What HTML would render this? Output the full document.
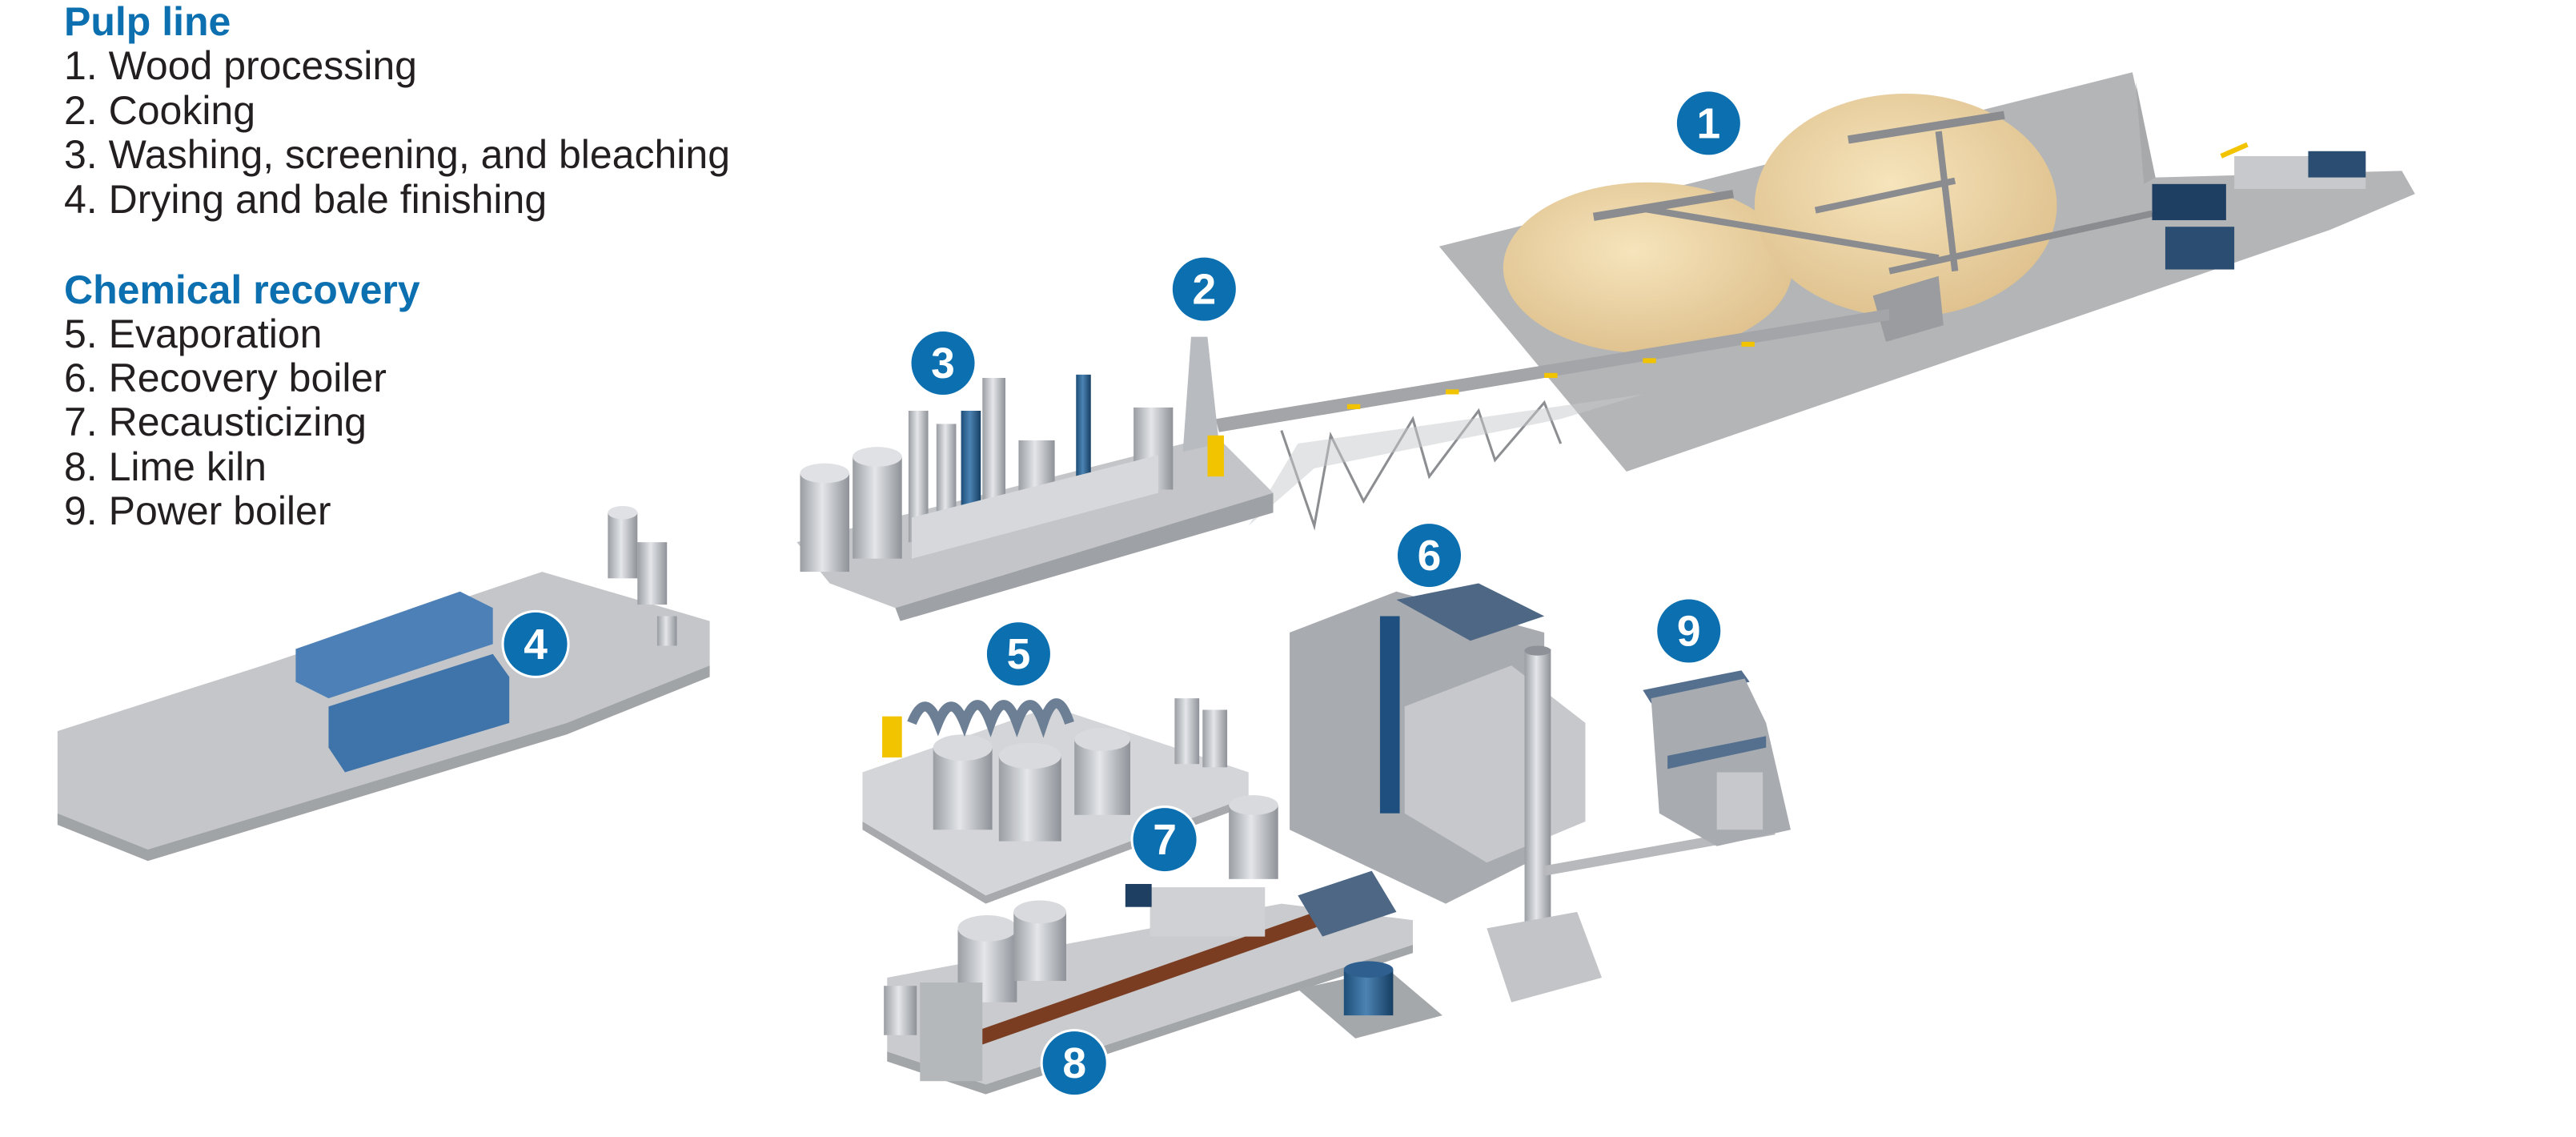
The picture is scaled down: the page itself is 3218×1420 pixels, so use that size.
<!DOCTYPE html>
<html><head><meta charset="utf-8"><style>
html,body{margin:0;padding:0;background:#fff;}
#wrap{position:relative;width:3218px;height:1420px;overflow:hidden;background:#fff;}
svg{position:absolute;left:0;top:0;}
.t{position:absolute;left:80px;font-family:"Liberation Sans",Arial,sans-serif;font-size:50px;color:#231f20;line-height:1;white-space:nowrap;}
.h{color:#0b6fb0;font-weight:bold;font-size:50px;}
</style></head><body><div id="wrap">
<svg width="3218" height="1420" viewBox="0 0 1568 692" preserveAspectRatio="none">
<defs>
<linearGradient id="cyl" x1="0" x2="1"><stop offset="0" stop-color="#9a9ea3"/><stop offset=".45" stop-color="#e4e6e9"/><stop offset="1" stop-color="#8e9298"/></linearGradient>
<linearGradient id="cylb" x1="0" x2="1"><stop offset="0" stop-color="#1d4e78"/><stop offset=".45" stop-color="#4c83b3"/><stop offset="1" stop-color="#163e62"/></linearGradient>
<radialGradient id="sand" cx=".45" cy=".4" r=".7"><stop offset="0" stop-color="#f6e4bc"/><stop offset="1" stop-color="#dcbd88"/></radialGradient>
</defs>
<!-- area 1 platform -->
<polygon points="876,150 1298,44 1312,108 1462,104 1470,118 1418,140 990,287" fill="#b4b5b7"/>
<polygon points="1300,50 1312,108 1305,112" fill="#a8a9ab"/>
<ellipse cx="1003" cy="163" rx="88" ry="52" fill="url(#sand)"/>
<ellipse cx="1160" cy="125" rx="92" ry="68" fill="url(#sand)"/>
<line x1="970" y1="132" x2="1055" y2="118" stroke="#8a8c90" stroke-width="5"/>
<line x1="1000" y1="127" x2="1180" y2="157" stroke="#8a8c90" stroke-width="4"/>
<line x1="1125" y1="85" x2="1220" y2="70" stroke="#8a8c90" stroke-width="5"/>
<line x1="1105" y1="128" x2="1190" y2="110" stroke="#8a8c90" stroke-width="4"/>
<line x1="1180" y1="80" x2="1190" y2="165" stroke="#8a8c90" stroke-width="4"/>
<line x1="1150" y1="165" x2="1310" y2="130" stroke="#8a8c90" stroke-width="4"/>
<polygon points="1140,180 1180,168 1183,198 1148,208" fill="#9a9c9f"/>
<rect x="1310" y="112" width="45" height="22" fill="#1f3f62"/>
<rect x="1318" y="138" width="42" height="26" fill="#2b4d72"/>
<rect x="1360" y="95" width="80" height="20" fill="#c7c9cc"/>
<rect x="1405" y="92" width="35" height="16" fill="#2b4d72"/>
<line x1="1352" y1="95" x2="1368" y2="88" stroke="#f2c400" stroke-width="3"/>
<!-- conveyor -->
<polygon points="740,255 1150,188 1150,195 742,263" fill="#a3a5a8"/>
<polyline points="780,262 800,320 810,265 830,305 860,255 870,290 900,250 910,280 940,245 950,270" fill="none" stroke="#8c8e92" stroke-width="1.5"/>
<polygon points="760,320 790,270 1000,240 950,255 800,285" fill="#c8c9cb" opacity=".5"/>
<g fill="#f2c400"><rect x="820" y="246" width="8" height="3"/><rect x="880" y="237" width="8" height="3"/><rect x="940" y="227" width="8" height="3"/><rect x="1000" y="218" width="8" height="3"/><rect x="1060" y="208" width="8" height="3"/></g>
<!-- area 3 -->
<polygon points="485,330 740,265 775,300 545,370 505,355" fill="#c3c5c8"/>
<polygon points="545,370 775,300 775,312 548,378" fill="#9ea1a5"/>
<rect x="487" y="288" width="30" height="60" fill="url(#cyl)"/><ellipse cx="502" cy="288" rx="15" ry="6" fill="#dfe1e4"/>
<rect x="519" y="278" width="30" height="62" fill="url(#cyl)"/><ellipse cx="534" cy="278" rx="15" ry="6" fill="#dfe1e4"/>
<rect x="553" y="250" width="12" height="80" fill="url(#cyl)"/>
<rect x="570" y="258" width="12" height="70" fill="url(#cyl)"/>
<rect x="585" y="250" width="12" height="75" fill="url(#cylb)"/>
<rect x="598" y="230" width="14" height="90" fill="url(#cyl)"/>
<rect x="620" y="268" width="22" height="45" fill="url(#cyl)"/>
<rect x="655" y="228" width="9" height="70" fill="url(#cylb)"/>
<rect x="690" y="248" width="24" height="50" fill="url(#cyl)"/>
<polygon points="720,275 725,205 735,205 742,270" fill="#b8bbbf"/>
<rect x="735" y="265" width="10" height="25" fill="#f2c400"/>
<polygon points="555,315 705,277 705,300 555,340" fill="#d6d8db"/>
<!-- area 4 -->
<polygon points="35,445 160,405 330,348 432,378 432,405 345,440 90,517 35,495" fill="#c4c6c9"/>
<polygon points="35,495 90,517 345,440 432,405 432,412 345,447 90,524 35,502" fill="#a1a4a7"/>
<polygon points="180,395 280,360 300,370 300,392 200,425 180,415" fill="#4d80b6"/>
<polygon points="200,430 300,398 310,412 310,440 210,470 200,455" fill="#3f74ab"/>
<rect x="370" y="312" width="18" height="40" fill="url(#cyl)"/><ellipse cx="379" cy="312" rx="9" ry="4" fill="#dfe1e4"/>
<rect x="388" y="330" width="18" height="38" fill="url(#cyl)"/>
<rect x="400" y="375" width="12" height="18" fill="url(#cyl)"/>
<!-- area 5 -->
<polygon points="525,470 640,430 760,470 760,485 600,545 525,500" fill="#d3d5d8"/>
<polygon points="525,500 600,545 760,485 760,490 600,550 525,505" fill="#a7a9ac"/>
<rect x="568" y="455" width="36" height="50" fill="url(#cyl)"/><ellipse cx="586" cy="455" rx="18" ry="8" fill="#d8dadd"/>
<rect x="608" y="460" width="38" height="52" fill="url(#cyl)"/><ellipse cx="627" cy="460" rx="19" ry="8" fill="#d8dadd"/>
<rect x="654" y="450" width="34" height="46" fill="url(#cyl)"/><ellipse cx="671" cy="450" rx="17" ry="7" fill="#d8dadd"/>
<path d="M555,440 q8,-20 16,0 q8,-20 16,0 q8,-22 16,0 q8,-22 16,0 q8,-22 16,0 q8,-24 16,0" fill="none" stroke="#6c7f95" stroke-width="6"/>
<rect x="537" y="436" width="12" height="25" fill="#f2c400"/>
<rect x="715" y="425" width="15" height="40" fill="url(#cyl)"/>
<rect x="732" y="432" width="15" height="35" fill="url(#cyl)"/>
<!-- area 6 -->
<polygon points="785,385 850,360 940,385 940,520 880,550 785,505" fill="#a8abaf"/>
<polygon points="850,365 900,355 940,375 895,390" fill="#4d6784"/>
<rect x="840" y="375" width="12" height="120" fill="#1e4f7e"/>
<polygon points="855,430 920,405 965,440 965,500 905,525 855,495" fill="#c6c8cb"/>
<rect x="928" y="395" width="16" height="200" fill="url(#cyl)"/><ellipse cx="936" cy="396" rx="8" ry="3" fill="#8e9298"/>
<polygon points="905,565 960,555 975,595 920,610" fill="#c2c4c7"/>
<line x1="940" y1="530" x2="1080" y2="505" stroke="#b7b9bc" stroke-width="6"/>
<!-- area 9 -->
<polygon points="1000,420 1060,408 1065,415 1005,428" fill="#55708f"/>
<polygon points="1005,425 1062,413 1075,440 1090,505 1045,515 1010,495" fill="#a8abaf"/>
<polygon points="1015,460 1075,448 1075,455 1015,468" fill="#55708f"/>
<rect x="1045" y="470" width="28" height="35" fill="#c6c8cb"/>
<!-- area 7 / 8 -->
<polygon points="540,595 780,550 860,560 860,575 600,660 540,640" fill="#c9cbce"/>
<polygon points="540,640 600,660 860,575 860,580 600,666 540,646" fill="#a3a6a9"/>
<line x1="595" y1="632" x2="800" y2="560" stroke="#7b3d22" stroke-width="9"/>
<rect x="583" y="565" width="36" height="45" fill="url(#cyl)"/><ellipse cx="601" cy="565" rx="18" ry="8" fill="#d8dadd"/>
<rect x="617" y="555" width="32" height="42" fill="url(#cyl)"/><ellipse cx="633" cy="555" rx="16" ry="7" fill="#d8dadd"/>
<rect x="748" y="490" width="30" height="45" fill="url(#cyl)"/><ellipse cx="763" cy="490" rx="15" ry="6" fill="#d8dadd"/>
<rect x="700" y="540" width="70" height="30" fill="#cfd1d4"/>
<rect x="685" y="538" width="16" height="14" fill="#1f3f62"/>
<polygon points="790,545 835,530 850,555 805,570" fill="#4d6784"/>
<rect x="560" y="598" width="38" height="60" fill="#b5b8bb"/>
<rect x="538" y="600" width="20" height="30" fill="url(#cyl)"/>
<polygon points="790,602 845,590 878,618 825,632" fill="#a5a8ab"/>
<rect x="818" y="590" width="30" height="28" fill="url(#cylb)"/><ellipse cx="833" cy="590" rx="15" ry="5" fill="#2e5f8f"/>
<!-- number circles -->
<g font-family="Liberation Sans, Arial, sans-serif" font-weight="bold" font-size="26" fill="#fff" text-anchor="middle">
<circle cx="1040" cy="75" r="20" fill="#0b6fb0" stroke="#fff" stroke-width="1.5"/><text x="1040" y="84">1</text>
<circle cx="733" cy="176" r="20" fill="#0b6fb0" stroke="#fff" stroke-width="1.5"/><text x="733" y="185">2</text>
<circle cx="574" cy="221" r="20" fill="#0b6fb0" stroke="#fff" stroke-width="1.5"/><text x="574" y="230">3</text>
<circle cx="326" cy="392" r="20" fill="#0b6fb0" stroke="#fff" stroke-width="1.5"/><text x="326" y="401">4</text>
<circle cx="620" cy="398" r="20" fill="#0b6fb0" stroke="#fff" stroke-width="1.5"/><text x="620" y="407">5</text>
<circle cx="870" cy="338" r="20" fill="#0b6fb0" stroke="#fff" stroke-width="1.5"/><text x="870" y="347">6</text>
<circle cx="709" cy="511" r="20" fill="#0b6fb0" stroke="#fff" stroke-width="1.5"/><text x="709" y="520">7</text>
<circle cx="654" cy="647" r="20" fill="#0b6fb0" stroke="#fff" stroke-width="1.5"/><text x="654" y="656">8</text>
<circle cx="1028" cy="384" r="20" fill="#0b6fb0" stroke="#fff" stroke-width="1.5"/><text x="1028" y="393">9</text>
</g>
</svg>
<div class="t h" style="top:2px">Pulp line</div>
<div class="t" style="top:57px">1. Wood processing</div>
<div class="t" style="top:113px">2. Cooking</div>
<div class="t" style="top:168px">3. Washing, screening, and bleaching</div>
<div class="t" style="top:224px">4. Drying and bale finishing</div>
<div class="t h" style="top:337px">Chemical recovery</div>
<div class="t" style="top:392px">5. Evaporation</div>
<div class="t" style="top:447px">6. Recovery boiler</div>
<div class="t" style="top:502px">7. Recausticizing</div>
<div class="t" style="top:558px">8. Lime kiln</div>
<div class="t" style="top:613px">9. Power boiler</div>
</div></body></html>
